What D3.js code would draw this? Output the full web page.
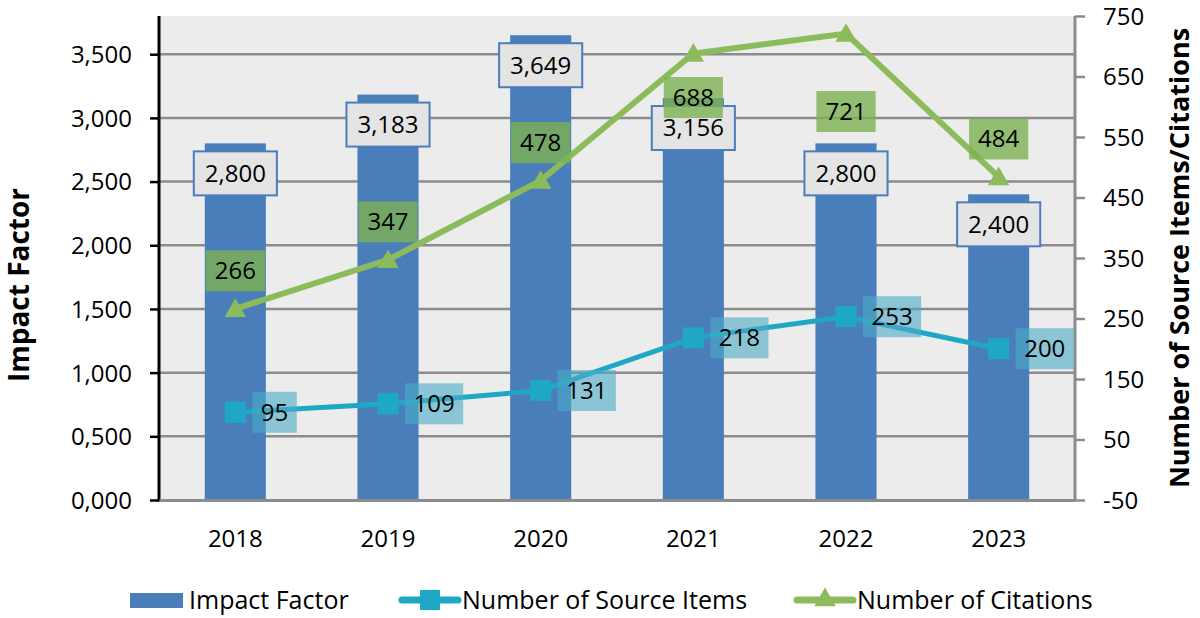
<!DOCTYPE html>
<html>
<head>
<meta charset="utf-8">
<script src="https://cdn.jsdelivr.net/npm/d3@7"></script>
<style>
  body { margin: 0; background: #fff; }
  text { font-family: "Open Sans", sans-serif; fill: #000; }
</style>
</head>
<body>
<div id="chart"></div>
<script>
// data
const years = ["2018", "2019", "2020", "2021", "2022", "2023"];
const impactFactor = [2.800, 3.183, 3.649, 3.156, 2.800, 2.400];
const sourceItems = [95, 109, 131, 218, 253, 200];
const citations = [266, 347, 478, 688, 721, 484];
const leftTicks = [0, 0.5, 1, 1.5, 2, 2.5, 3, 3.5];
const rightTicks = [-50, 50, 150, 250, 350, 450, 550, 650, 750];

const WIDTH = 1200;
const HEIGHT = 618;
const MARGINS = { top: 16, right: 125, bottom: 118, left: 159 };
const BLUE = "#4a7ebb";
const TEAL = "#1fa8c6";
const GREEN = "#8cbb5c";
const GRID = "#8c8c8c";

// extra push (px) for the one citation label that was dragged lower
const citeLabelNudge = [0, 0, 0, 0, 34, 0];

const locale = d3.formatLocale({ decimal: ",", thousands: ".", grouping: [3], currency: ["", ""], minus: "-" });
const fmtIF = locale.format(".3f");
const fmtInt = locale.format("d");

const x = d3.scaleBand()
    .domain(years)
    .range([MARGINS.left, WIDTH - MARGINS.right])
    .paddingInner(0.6)
    .paddingOuter(0.3);
const yLeft = d3.scaleLinear().domain([0, 3.8]).range([HEIGHT - MARGINS.bottom, MARGINS.top]);
const yRight = d3.scaleLinear().domain([-50, 750]).range([HEIGHT - MARGINS.bottom, MARGINS.top]);
const cx = d => x(d) + x.bandwidth() / 2;

const svg = d3.select("#chart").append("svg")
    .attr("width", WIDTH)
    .attr("height", HEIGHT)
    .attr("viewBox", [0, 0, WIDTH, HEIGHT]);

// plot background
svg.append("rect")
    .attr("x", MARGINS.left)
    .attr("y", MARGINS.top)
    .attr("width", WIDTH - MARGINS.left - MARGINS.right)
    .attr("height", HEIGHT - MARGINS.top - MARGINS.bottom)
    .style("fill", "#ececec");

// gridlines from the left axis
svg.append("g")
    .selectAll("line")
    .data(leftTicks.filter(d => d > 0))
    .join("line")
    .attr("x1", MARGINS.left)
    .attr("x2", WIDTH - MARGINS.right)
    .attr("y1", d => yLeft(d))
    .attr("y2", d => yLeft(d))
    .style("stroke", GRID)
    .style("stroke-width", 2.5);

// bars
svg.append("g")
    .selectAll("rect")
    .data(years)
    .join("rect")
    .attr("x", d => x(d))
    .attr("y", (d, i) => yLeft(impactFactor[i]))
    .attr("width", x.bandwidth())
    .attr("height", (d, i) => yLeft(0) - yLeft(impactFactor[i]))
    .style("fill", BLUE);

// left axis
const leftAxis = svg.append("g")
    .attr("transform", `translate(${MARGINS.left},0)`)
    .call(d3.axisLeft(yLeft).tickValues(leftTicks).tickFormat(fmtIF).tickSize(9).tickPadding(18));
leftAxis.select(".domain").remove();
leftAxis.selectAll("line").style("stroke", "#000").style("stroke-width", 2.5);
leftAxis.selectAll("text").style("font-size", "24px").attr("dy", "0.35em");
svg.append("line")
    .attr("x1", MARGINS.left).attr("x2", MARGINS.left)
    .attr("y1", MARGINS.top).attr("y2", HEIGHT - MARGINS.bottom + 1.5)
    .style("stroke", "#000").style("stroke-width", 3);

// right axis
const rightAxis = svg.append("g")
    .attr("transform", `translate(${WIDTH - MARGINS.right},0)`)
    .call(d3.axisRight(yRight).tickValues(rightTicks).tickFormat(fmtInt).tickSize(10).tickPadding(18));
rightAxis.select(".domain").remove();
rightAxis.selectAll("line").style("stroke", GRID).style("stroke-width", 2.5);
rightAxis.selectAll("text").style("font-size", "24px").attr("dy", "0.35em");
svg.append("line")
    .attr("x1", WIDTH - MARGINS.right).attr("x2", WIDTH - MARGINS.right)
    .attr("y1", MARGINS.top).attr("y2", HEIGHT - MARGINS.bottom)
    .style("stroke", GRID).style("stroke-width", 3);

// bottom axis
const bottomAxis = svg.append("g")
    .attr("transform", `translate(0,${HEIGHT - MARGINS.bottom})`)
    .call(d3.axisBottom(x).tickSize(0).tickPadding(30));
bottomAxis.select(".domain").style("stroke", GRID).style("stroke-width", 3);
bottomAxis.selectAll("text").style("font-size", "24px");

// axis titles
svg.append("text")
    .text("Impact Factor")
    .attr("transform", `translate(29,${(MARGINS.top + HEIGHT - MARGINS.bottom) / 2 + 27}) rotate(-90)`)
    .attr("text-anchor", "middle")
    .style("font-size", "28px")
    .style("font-weight", "bold");
svg.append("text")
    .text("Number of Source Items/Citations")
    .attr("transform", `translate(1189,${(MARGINS.top + HEIGHT - MARGINS.bottom) / 2}) rotate(-90)`)
    .attr("text-anchor", "middle")
    .style("font-size", "27px")
    .style("font-weight", "bold");

// impact factor labels
years.forEach(function(year, i) {
    var g = svg.append("g");
    var t = g.append("text")
        .text(fmtIF(impactFactor[i]))
        .attr("x", cx(year))
        .attr("y", yLeft(impactFactor[i]) + 30)
        .attr("dy", "0.35em")
        .attr("text-anchor", "middle")
        .style("font-size", "24px");
    var w = t.node().getComputedTextLength() + 22;
    g.insert("rect", "text")
        .attr("x", cx(year) - w / 2)
        .attr("y", yLeft(impactFactor[i]) + 8)
        .attr("width", w)
        .attr("height", 44)
        .style("fill", "#e4e4e4")
        .style("stroke", BLUE)
        .style("stroke-width", 2);
});

// lines
const valLine = d3.line().x((d, i) => cx(years[i])).y(d => yRight(d));
svg.append("path")
    .attr("d", valLine(sourceItems))
    .style("fill", "none")
    .style("stroke", TEAL)
    .style("stroke-width", 5);
svg.append("path")
    .attr("d", valLine(citations))
    .style("fill", "none")
    .style("stroke", GREEN)
    .style("stroke-width", 6);

// markers
svg.append("g")
    .selectAll("rect")
    .data(sourceItems)
    .join("rect")
    .attr("x", (d, i) => cx(years[i]) - 10.5)
    .attr("y", d => yRight(d) - 10.5)
    .attr("width", 21)
    .attr("height", 21)
    .style("fill", TEAL);
svg.append("g")
    .selectAll("path")
    .data(citations)
    .join("path")
    .attr("d", d3.symbol(d3.symbolTriangle, 200))
    .attr("transform", (d, i) => `translate(${cx(years[i])},${yRight(d) + 2})`)
    .style("fill", GREEN);

// source item labels, to the right of the point
sourceItems.forEach(function(v, i) {
    var g = svg.append("g");
    var left = cx(years[i]) + 17;
    var t = g.append("text")
        .text(v)
        .attr("y", yRight(v))
        .attr("dy", "0.35em")
        .style("font-size", "24px");
    var w = t.node().getComputedTextLength() + 17;
    t.attr("x", left + 8.5);
    g.insert("rect", "text")
        .attr("x", left)
        .attr("y", yRight(v) - 20.5)
        .attr("width", w)
        .attr("height", 41)
        .style("fill", "rgba(75,172,198,0.6)");
});

// citation labels, above the point unless there is no room
citations.forEach(function(v, i) {
    var g = svg.append("g");
    var py = yRight(v);
    var cy = py - 38 - 20.5 < MARGINS.top ? py + 44 + citeLabelNudge[i] : py - 38;
    var t = g.append("text")
        .text(v)
        .attr("x", cx(years[i]))
        .attr("y", cy)
        .attr("dy", "0.35em")
        .attr("text-anchor", "middle")
        .style("font-size", "24px");
    var w = t.node().getComputedTextLength() + 18;
    g.insert("rect", "text")
        .attr("x", cx(years[i]) - w / 2)
        .attr("y", cy - 20.5)
        .attr("width", w)
        .attr("height", 41)
        .style("fill", "rgba(125,178,82,0.8)");
});

// legend
const legend = svg.append("g").attr("transform", "translate(0,600)");
legend.append("rect")
    .attr("x", 130).attr("y", -7).attr("width", 53).attr("height", 15)
    .style("fill", BLUE);
legend.append("text").text("Impact Factor")
    .attr("x", 189).attr("dy", "0.35em").style("font-size", "25px");

legend.append("line")
    .attr("x1", 402).attr("x2", 458)
    .style("stroke", TEAL).style("stroke-width", 7).style("stroke-linecap", "round");
legend.append("rect")
    .attr("x", 420).attr("y", -10).attr("width", 20).attr("height", 20)
    .style("fill", TEAL);
legend.append("text").text("Number of Source Items")
    .attr("x", 462).attr("dy", "0.35em").style("font-size", "25px");

legend.append("line")
    .attr("x1", 797).attr("x2", 853)
    .style("stroke", GREEN).style("stroke-width", 7).style("stroke-linecap", "round");
legend.append("path")
    .attr("d", d3.symbol(d3.symbolTriangle, 200))
    .attr("transform", "translate(825,0)")
    .style("fill", GREEN);
legend.append("text").text("Number of Citations")
    .attr("x", 857).attr("dy", "0.35em").style("font-size", "25px");
</script>
</body>
</html>
